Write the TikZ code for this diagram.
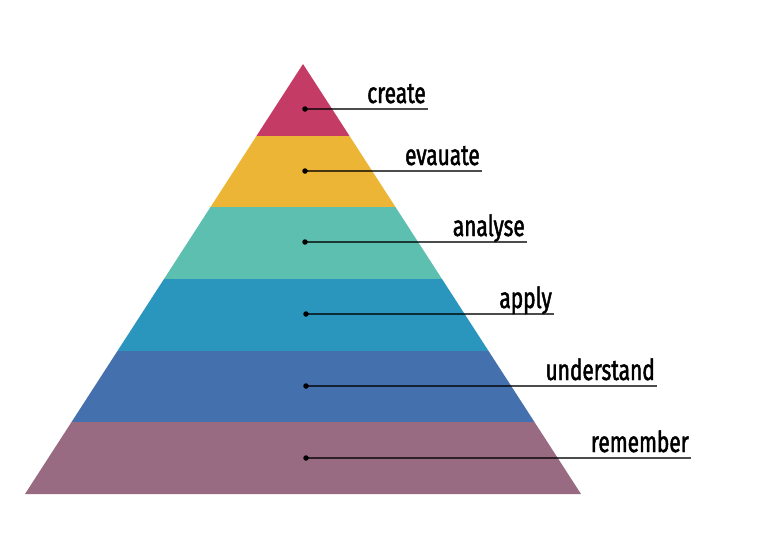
\documentclass[tikz,border=0pt]{standalone}
\usepackage{fontspec}
\newfontfamily\labfont[FakeStretch=0.72,FakeBold=1.6]{Fira Sans}
\definecolor{cCreate}{HTML}{C43C66}
\definecolor{cEval}{HTML}{EDB535}
\definecolor{cAnal}{HTML}{5DBFB0}
\definecolor{cApply}{HTML}{2A96BD}
\definecolor{cUnder}{HTML}{4570AE}
\definecolor{cRem}{HTML}{986B82}
\tikzset{
  dotnode/.style={circle,fill=black,inner sep=0pt,minimum size=5.5pt},
  leader/.style={draw=black,draw opacity=0.7,line width=1.3pt},
  lab/.style={anchor=base east,inner sep=0pt,font=\labfont\fontsize{29}{29}\selectfont}
}
\begin{document}
\begin{tikzpicture}[x=1pt,y=-1pt]
\useasboundingbox (0,0) rectangle (768,541);
\fill[white] (0,0) rectangle (768,541);
\coordinate (apex) at (303,64);
\coordinate (bl) at (25,494);
\coordinate (br) at (581,494);
\begin{scope}
\clip (apex) -- (bl) -- (br) -- cycle;
\fill[cCreate] (0,60) rectangle (768,135.7);
\fill[cEval] (0,135.7) rectangle (768,207.3);
\fill[cAnal] (0,207.3) rectangle (768,279);
\fill[cApply] (0,279) rectangle (768,350.7);
\fill[cUnder] (0,350.7) rectangle (768,422.3);
\fill[cRem] (0,422.3) rectangle (768,495);
\end{scope}
% create
\node[dotnode] (d1) at (305,109) {};
\coordinate (e1) at (428,109);
\draw[leader] (d1.center) -- (e1);
\node[lab] (t1) at (426,103) {create};
% evauate
\node[dotnode] (d2) at (305,171) {};
\coordinate (e2) at (482,171);
\draw[leader] (d2.center) -- (e2);
\node[lab] (t2) at (480,165) {evauate};
% analyse
\node[dotnode] (d3) at (305,242) {};
\coordinate (e3) at (527,242);
\draw[leader] (d3.center) -- (e3);
\node[lab] (t3) at (525,236) {analyse};
% apply
\node[dotnode] (d4) at (306,314) {};
\coordinate (e4) at (554,314);
\draw[leader] (d4.center) -- (e4);
\node[lab] (t4) at (552,308) {apply};
% understand
\node[dotnode] (d5) at (306,386) {};
\coordinate (e5) at (657,386);
\draw[leader] (d5.center) -- (e5);
\node[lab] (t5) at (655,380) {understand};
% remember
\node[dotnode] (d6) at (306,458) {};
\coordinate (e6) at (691,458);
\draw[leader] (d6.center) -- (e6);
\node[lab] (t6) at (689,452) {remember};
\end{tikzpicture}
\end{document}
